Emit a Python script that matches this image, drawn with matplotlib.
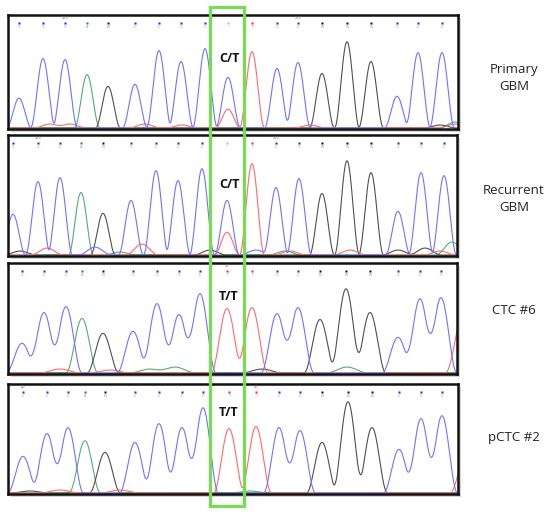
import numpy as np
import matplotlib
matplotlib.use("Agg")
import matplotlib.pyplot as plt
from matplotlib.patches import Rectangle

W, H = 550, 514

# base calls per trace (Y = C/T heterozygous call)
calls_het = list("CCCAGCCCCYTCCGGGCCC")
calls_hom = list("CCCAGCCCCTTCCGGGCCC")

# peak centres (px) and main peak heights (px above baseline)
pos1 = [19, 43, 65, 87, 108, 135, 159, 181, 205, 228, 252, 277, 298, 322, 347, 371, 397, 418, 442]
h1 = [30, 70, 69, 52, 42, 44, 78, 67, 80, 51, 77, 60, 66, 55, 87, 67, 32, 76, 76]
pos2 = [13, 38, 60, 81, 103, 131, 156, 178, 202, 227, 252, 276, 299, 322, 347, 371, 398, 421, 444]
h2 = [41, 74, 78, 63, 42, 55, 85, 75, 87, 55, 92, 68, 77, 62, 95, 83, 44, 83, 80]
pos3 = [22, 44, 66, 82, 103, 133, 157, 179, 200, 227, 252, 277, 298, 320, 346, 370, 398, 420, 441]
h3 = [30, 61, 67, 55, 40, 42, 70, 59, 80, 65, 66, 60, 66, 54, 85, 61, 36, 75, 76]
pos4 = [23, 47, 68, 85, 105, 135, 159, 182, 203, 229, 256, 279, 300, 322, 348, 372, 399, 421, 442]
h4 = [37, 60, 66, 51, 41, 51, 70, 66, 86, 65, 67, 66, 63, 51, 92, 66, 44, 75, 78]

# minor T peak under the heterozygous Y call
y_minor = [19, 23, 0, 0]

# small background peaks (x, height)
bg1 = {"T": [(50, 4), (70, 4), (145, 4), (182, 3), (310, 3), (455, 4)],
       "A": [(90, 2), (455, 6)], "G": [(440, 3)], "C": []}
bg2 = {"T": [(47, 7), (142, 11), (290, 4), (350, 5), (440, 4)],
       "A": [(120, 3), (285, 4), (452, 13)], "G": [(20, 4), (210, 5), (398, 5), (425, 7)],
       "C": [(95, 8), (256, 5)]}
bg3 = {"T": [(60, 4), (110, 3), (466, 70)], "A": [(150, 4), (175, 6), (347, 6)],
       "G": [(262, 4)], "C": []}
bg4 = {"T": [(60, 3), (120, 3), (470, 55)], "A": [(80, 2), (250, 2)], "G": [(30, 2)], "C": []}

# ruler numbers above the calls (index of base, text)
ruler1 = [(2, "260"), (12, "270")]
ruler2 = [(1, "260"), (11, "270")]
ruler3 = [(9, "50")]
ruler4 = [(0, "40"), (10, "50")]

names = ["Primary\nGBM", "Recurrent\nGBM", "CTC #6", "pCTC #2"]
genotypes = ["C/T", "C/T", "T/T", "T/T"]

# layout in pixels
boxes = [(8, 15, 458, 129), (8, 135, 457, 256), (8, 263, 457, 374), (8, 384, 458, 494)]
half_w = [12.5, 12.5, 16, 15.5]   # half width of a peak
name_y = [78, 199, 311, 437]
geno_y = [58, 185, 296, 413]

trace_col = {"C": "#7272ff", "A": "#52ad78", "G": "#505050", "T": "#ff6b6b"}
mark_col = {"C": "#1f1fff", "A": "#138a45", "G": "#111111", "T": "#ff2020", "Y": "#ff88ff"}


def peak(x, c, h, w):
    d = np.clip((x - c) / w, -1, 1)
    return h * np.cos(d * np.pi / 2) ** 2


fig = plt.figure(figsize=(W / 100, H / 100), dpi=100)

# shadows behind panels
bg = fig.add_axes([0, 0, 1, 1], zorder=0)
bg.set_xlim(0, W)
bg.set_ylim(H, 0)
bg.axis("off")
for (l, t, r, b) in boxes:
    bg.add_patch(Rectangle((l + 3, t + 3), r - l, b - t, color="#b8b8b8", alpha=0.6, lw=0))

panels = [(pos1, h1, calls_het, bg1, ruler1), (pos2, h2, calls_het, bg2, ruler2),
          (pos3, h3, calls_hom, bg3, ruler3), (pos4, h4, calls_hom, bg4, ruler4)]

for i, ((pos, hts, calls, bgp, ruler), (l, t, r, b)) in enumerate(zip(panels, boxes)):
    ph = b - t
    ax = fig.add_axes([l / W, 1 - b / H, (r - l) / W, ph / H], zorder=1)
    ax.set_xlim(l, r)
    ax.set_ylim(-1, ph)
    ax.set_xticks([])
    ax.set_yticks([])
    for sp in ax.spines.values():
        sp.set_linewidth(1.8)
        sp.set_color("#111111")

    x = np.linspace(l, r, 1500)
    w = half_w[i]
    traces = {k: np.zeros_like(x) for k in "CAGT"}
    for p, hh, c in zip(pos, hts, calls):
        ch = "C" if c == "Y" else c
        traces[ch] += peak(x, p, hh, w)
        if c == "Y":
            traces["T"] += peak(x, p, y_minor[i], w)
    for ch, lst in bgp.items():
        for p, hh in lst:
            traces[ch] += peak(x, p, hh, w * 1.3)
    for ch in ["A", "G", "T", "C"]:
        ax.plot(x, traces[ch], color=trace_col[ch], lw=0.8)

    # base calls
    for p, c in zip(pos, calls):
        ax.plot(p, ph - 8, "s", ms=2.0, color=mark_col[c], mec="none")
        ax.text(p, ph - 12.5, c, fontsize=2.5, color=mark_col[c], alpha=0.6,
                ha="center", va="center")
    for idx, txt in ruler:
        ax.text(pos[idx], ph - 3.5, txt, fontsize=2.5, color="#666666",
                ha="center", va="center")

# overlay: green box, genotype and sample labels
ov = fig.add_axes([0, 0, 1, 1], zorder=2)
ov.set_xlim(0, W)
ov.set_ylim(H, 0)
ov.axis("off")
ov.add_patch(Rectangle((210, 7), 34, 499, fill=False, ec="#76dc52", lw=2.3))
for g, gy in zip(genotypes, geno_y):
    ov.text(229, gy, g, fontsize=9, fontweight="bold", family="Open Sans",
            ha="center", va="center", color="#111111")
for n, ny in zip(names, name_y):
    ov.text(514, ny, n, fontsize=9.5, family="Open Sans", ha="center", va="center",
            color="#222222", linespacing=1.35)

fig.savefig("out.png", dpi=100)
